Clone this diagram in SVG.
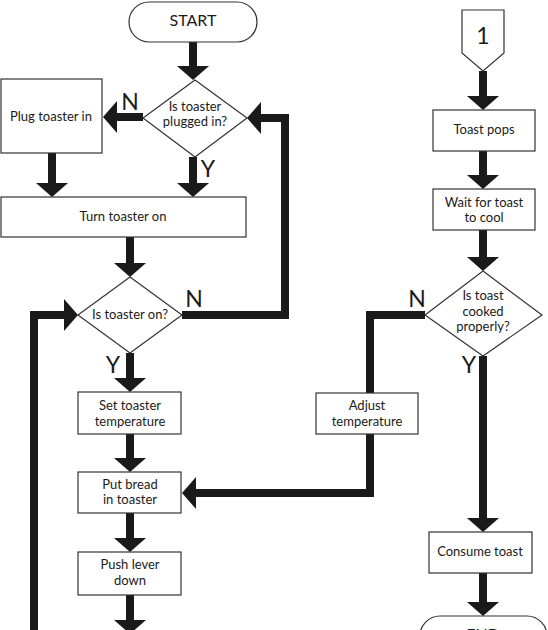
<svg xmlns="http://www.w3.org/2000/svg" width="548" height="630" viewBox="0 0 548 630">
<defs>
<style>
.box{fill:#fff;stroke:#333;stroke-width:1.2}
.t{font-family:Lato,"Liberation Sans",sans-serif;font-size:13px;fill:#1a1a1a;text-anchor:middle}
.big{font-family:Lato,"Liberation Sans",sans-serif;font-size:23px;fill:#1a1a1a;text-anchor:middle}
.term{font-family:Lato,"Liberation Sans",sans-serif;font-size:16px;fill:#1a1a1a;text-anchor:middle}
.c{fill:none;stroke:#1a1a1a;stroke-width:8;stroke-linejoin:miter;stroke-linecap:butt}
.ca{marker-end:url(#ah)}
</style>
<marker id="ah" markerUnits="userSpaceOnUse" viewBox="0 -16 14 32" markerWidth="14" markerHeight="32" refX="0" refY="0" orient="auto">
<path d="M0,-16 L14,0 L0,16 Z" fill="#1a1a1a"/>
</marker>
</defs>
<rect width="548" height="630" fill="#fff"/>
<g id="connectors">
<path class="c ca" d="M193,42 V66"/>
<path class="c ca" d="M143,117 H117"/>
<path class="c ca" d="M193,157 V183"/>
<path class="c ca" d="M52,153 V183"/>
<path class="c ca" d="M130,237 V263"/>
<path class="c ca" d="M182,315 H285 V118 H261"/>
<path class="c ca" d="M130,353 V378"/>
<path class="c ca" d="M130,434 V458"/>
<path class="c ca" d="M130,513 V538"/>
<path class="c ca" d="M130,595 V620"/>
<path class="c ca" d="M34,632 V315 H64"/>
<path class="c ca" d="M483,71 V96"/>
<path class="c ca" d="M483,151 V175"/>
<path class="c ca" d="M483,230 V257"/>
<path class="c" d="M425,315 H370 V393"/>
<path class="c ca" d="M370,434 V493 H196"/>
<path class="c ca" d="M483,356 V518"/>
<path class="c ca" d="M483,573 V602"/>
</g>
<g id="labels">
<text class="big" x="130" y="110">N</text>
<text class="big" x="208" y="177">Y</text>
<text class="big" x="194" y="307">N</text>
<text class="big" x="113" y="373">Y</text>
<text class="big" x="417" y="307">N</text>
<text class="big" x="469" y="373">Y</text>
</g>
<g id="start">
<rect class="box" x="129" y="2" width="128" height="40" rx="20"/>
<text class="term" x="193" y="26">START</text>
</g>
<g id="plugged">
<polygon class="box" points="195,80 247,118 195,157 143,118"/>
<text class="t" x="195" y="111">Is toaster</text>
<text class="t" x="195" y="126">plugged in?</text>
</g>
<g id="plug">
<rect class="box" x="1" y="79" width="101" height="74"/>
<text class="t" x="51" y="121">Plug toaster in</text>
</g>
<g id="turnon">
<rect class="box" x="1" y="197" width="245" height="40"/>
<text class="t" x="123" y="221">Turn toaster on</text>
</g>
<g id="ison">
<polygon class="box" points="130,277 182,315 130,353 78,315"/>
<text class="t" x="130" y="319">Is toaster on?</text>
</g>
<g id="settemp">
<rect class="box" x="78" y="392" width="103" height="42"/>
<text class="t" x="130" y="410">Set toaster</text>
<text class="t" x="130" y="426">temperature</text>
</g>
<g id="putbread">
<rect class="box" x="78" y="472" width="103" height="41"/>
<text class="t" x="130" y="489">Put bread</text>
<text class="t" x="130" y="504">in toaster</text>
</g>
<g id="pushlever">
<rect class="box" x="78" y="552" width="103" height="43"/>
<text class="t" x="130" y="569">Push lever</text>
<text class="t" x="130" y="585">down</text>
</g>
<g id="conn1">
<polygon class="box" points="462,10 504,10 504,53 483,71 462,53"/>
<text class="big" x="483" y="44">1</text>
</g>
<g id="toastpops">
<rect class="box" x="433" y="110" width="102" height="41"/>
<text class="t" x="484" y="134">Toast pops</text>
</g>
<g id="wait">
<rect class="box" x="433" y="189" width="102" height="41"/>
<text class="t" x="484" y="207">Wait for toast</text>
<text class="t" x="484" y="222">to cool</text>
</g>
<g id="cooked">
<polygon class="box" points="483,271 542,315 483,356 425,315"/>
<text class="t" x="483" y="300">Is toast</text>
<text class="t" x="483" y="316">cooked</text>
<text class="t" x="483" y="331">properly?</text>
</g>
<g id="adjust">
<rect class="box" x="316" y="393" width="102" height="41"/>
<text class="t" x="367" y="410">Adjust</text>
<text class="t" x="367" y="426">temperature</text>
</g>
<g id="consume">
<rect class="box" x="429" y="532" width="103" height="41"/>
<text class="t" x="480" y="556">Consume toast</text>
</g>
<g id="end">
<rect class="box" x="420" y="616" width="127" height="40" rx="20"/>
<text class="term" x="483" y="640">END</text>
</g>
</svg>
